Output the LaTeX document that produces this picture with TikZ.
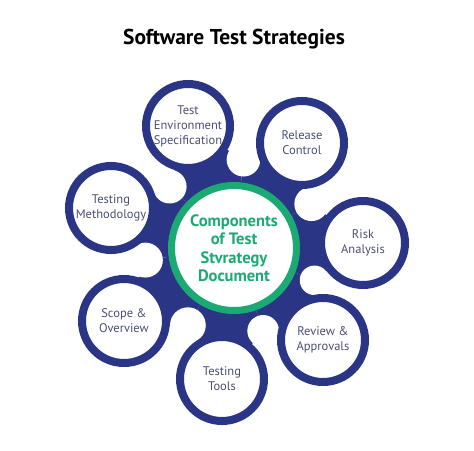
\documentclass[tikz,border=0pt]{standalone}
\usepackage{fontspec}
\setmainfont{PT Sans}
\usetikzlibrary{calc}
\definecolor{navy}{RGB}{42,54,133}
\definecolor{tealgreen}{RGB}{27,170,115}
\definecolor{labelgray}{RGB}{75,80,115}
\begin{document}
\begin{tikzpicture}[x=1pt,y=-1pt,
  sat/.style={circle, draw=navy, line width=8pt, fill=white, minimum size=84pt, inner sep=0pt, align=center, text=labelgray, font=\fontsize{12.5}{15}\selectfont},
  hub/.style={circle, draw=tealgreen, line width=7pt, fill=white, minimum size=125pt, inner sep=0pt, align=center, text=tealgreen, font=\bfseries\fontsize{16.5}{18.5}\selectfont},
  neck/.style={fill=navy},
  notch/.style={fill=white},
  titlestyle/.style={font=\bfseries\fontsize{21.5}{24}\selectfont, text=black}]
\fill[white] (0,0) rectangle (474,450);
\useasboundingbox (0,0) rectangle (474,450);
% centres
\coordinate (o) at (234,248);
\coordinate (c1) at (188,126);
\coordinate (c2) at (302,143);
\coordinate (c3) at (363,243);
\coordinate (c4) at (323,340);
\coordinate (c5) at (222,379);
\coordinate (c6) at (124,321);
\coordinate (c7) at (111,208);
% notch centres
\coordinate (na) at (243.5,159.65);
\coordinate (nb) at (311.5,203.9);
\coordinate (nc) at (314.5,280.3);
\coordinate (nd) at (263.2,330.9);
\coordinate (ne) at (187.9,325.2);
\coordinate (nf) at (145.4,260.1);
\coordinate (ng) at (169.7,186.6);
% navy body
\fill[neck] (o) -- (ng) -- (c1) -- (na) -- cycle;
\fill[neck] (o) -- (na) -- (c2) -- (nb) -- cycle;
\fill[neck] (o) -- (nb) -- (c3) -- (nc) -- cycle;
\fill[neck] (o) -- (nc) -- (c4) -- (nd) -- cycle;
\fill[neck] (o) -- (nd) -- (c5) -- (ne) -- cycle;
\fill[neck] (o) -- (ne) -- (c6) -- (nf) -- cycle;
\fill[neck] (o) -- (nf) -- (c7) -- (ng) -- cycle;
% white notches
\fill[notch] (na) circle[radius=16.86pt];
\fill[notch] (nb) circle[radius=17.16pt];
\fill[notch] (nc) circle[radius=14.74pt];
\fill[notch] (nd) circle[radius=15.88pt];
\fill[notch] (ne) circle[radius=17.87pt];
\fill[notch] (nf) circle[radius=17.45pt];
\fill[notch] (ng) circle[radius=16.89pt];
% nodes
\node[titlestyle] (title) at (234,39) {Software Test Strategies};
\node[hub] (hub) at (o) {Components\\of Test\\Stvrategy\\Document};
\node[sat] (s1) at (c1) {Test\\Environment\\Specification};
\node[sat] (s2) at (c2) {Release\\Control};
\node[sat] (s3) at (c3) {Risk\\Analysis};
\node[sat] (s4) at (c4) {Review \&\\Approvals};
\node[sat] (s5) at (c5) {Testing\\Tools};
\node[sat] (s6) at (c6) {Scope \&\\Overview};
\node[sat] (s7) at (c7) {Testing\\Methodology};
\end{tikzpicture}
\end{document}
